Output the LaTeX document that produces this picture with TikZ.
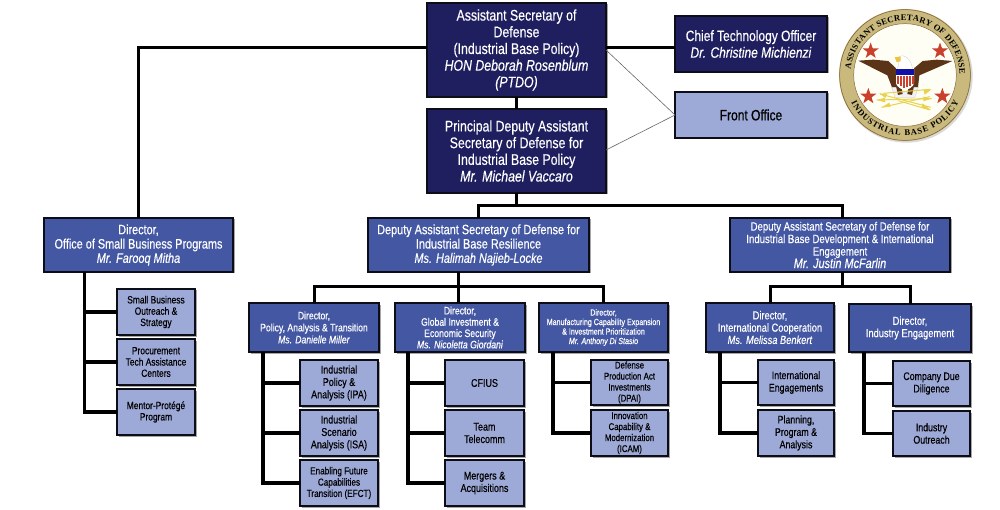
\documentclass[tikz,border=0pt]{standalone}
\usepackage{fontspec}
\setmainfont{Liberation Sans}[FakeStretch=0.8,FakeBold=0.35]
\newfontfamily\sealfont{Liberation Serif}[Scale=1]
\usetikzlibrary{shadows,shapes.geometric,decorations.text,calc}
\definecolor{navy}{HTML}{1F1E5F}
\definecolor{midb}{HTML}{4457A3}
\definecolor{lite}{HTML}{9DA9D6}
\definecolor{edge}{HTML}{0D0D18}
\definecolor{gold}{HTML}{C9B97C}
\definecolor{brn}{HTML}{5B3418}
\definecolor{starred}{HTML}{C9402C}
\definecolor{arrowy}{HTML}{E8D24E}
\tikzset{
  orgbox/.style={draw=edge,line width=1.4pt,inner sep=0pt,outer sep=0pt,align=center,
    drop shadow={shadow xshift=1.5pt,shadow yshift=-1.5pt,opacity=.35,fill=black}},
  topbox/.style={orgbox,fill=navy,text=white},
  midbox/.style={orgbox,fill=midb,text=white},
  litebox/.style={orgbox,fill=lite,text=black},
  conn/.style={draw=black,line width=3.3pt,line cap=butt},
  bus/.style={draw=black,line width=3pt,line join=miter},
  thin/.style={draw=gray!80!black,line width=.6pt},
}
% name, x1,y1,x2,y2, style, size, leading, text
\newcommand{\bx}[9]{\node[#6,minimum width={(#4-#2)*1pt},minimum height={(#5-#3)*1pt},
  font=\fontsize{#7}{#8}\selectfont] (#1) at ({(#2+#4)/2},{(#3+#5)/2}) {#9};}
\begin{document}
\begin{tikzpicture}[x=1pt,y=-1pt]
\useasboundingbox (0,0) rectangle (1000,510);
% coordinates for junctions
\coordinate (a1) at (427,47.5);
\coordinate (busy) at (516.5,205.5);
\coordinate (resbus) at (458,287);
\coordinate (devbus) at (842,286.5);
\coordinate (devtop) at (842,218);
\coordinate (osbsp) at (84.5,272);
\coordinate (patsp) at (263,352);
\coordinate (giesp) at (408,352);
\coordinate (mcesp) at (553,352);
\coordinate (icsp) at (720,352);
\coordinate (iesp) at (864,352);
\coordinate (fo) at (675,115);
\coordinate (aout) at (606,50);
\coordinate (pout) at (606,150);
\coordinate (patin) at (314,303);
\coordinate (mcein) at (603,303);
% nodes
\bx{a}{427}{3}{606}{97}{topbox}{15.4}{16.7}{Assistant Secretary of\\Defense\\(Industrial Base Policy)\\\textit{HON Deborah Rosenblum}\\\textit{(PTDO)}}
\bx{pd}{427}{109}{606}{193}{topbox}{15.4}{16.7}{Principal Deputy Assistant\\Secretary of Defense for\\Industrial Base Policy\\\textit{Mr. Michael Vaccaro}}
\bx{cto}{675}{16}{827}{72}{topbox}{15}{16.7}{Chief Technology Officer\\\textit{Dr. Christine Michienzi}}
\bx{fob}{675}{92}{827}{138}{litebox}{15}{16.7}{\addfontfeature{FakeBold=0.8}Front Office}
\bx{osb}{44}{218}{233}{272}{midbox}{13.6}{14.3}{Director,\\Office of Small Business Programs\\\textit{Mr. Farooq Mitha}}
\bx{res}{368}{218}{589}{272}{midbox}{13.6}{14.3}{Deputy Assistant Secretary of Defense for\\Industrial Base Resilience\\\textit{Ms. Halimah Najieb-Locke}}
\bx{dev}{730}{218}{950}{272}{midbox}{12}{12.5}{Deputy Assistant Secretary of Defense for\\Industrial Base Development \& International\\Engagement\\{\fontsize{13.6}{13}\selectfont\textit{Mr. Justin McFarlin}}}
\bx{pat}{249}{303}{379}{352}{midbox}{10.8}{12}{Director,\\Policy, Analysis \& Transition\\\textit{Ms. Danielle Miller}}
\bx{gie}{395}{303}{525}{352}{midbox}{10.8}{11.3}{Director,\\Global Investment \&\\Economic Security\\\textit{Ms. Nicoletta Giordani}}
\bx{mce}{539}{303}{668}{352}{midbox}{8.9}{9.5}{Director,\\Manufacturing Capability Expansion\\\& Investment Prioritization\\\textit{Mr. Anthony Di Stasio}}
\bx{ic}{706}{303}{834}{352}{midbox}{11.6}{12.3}{Director,\\International Cooperation\\\textit{Ms. Melissa Benkert}}
\bx{ie}{849}{304}{971}{352}{midbox}{11.6}{12.3}{Director,\\Industry Engagement}
\bx{o1}{117}{289}{195}{335}{litebox}{10.5}{11.3}{Small Business\\Outreach \&\\Strategy}
\bx{o2}{117}{339}{195}{385}{litebox}{10.5}{11.3}{Procurement\\Tech Assistance\\Centers}
\bx{o3}{117}{389}{195}{435}{litebox}{10.5}{11.3}{Mentor-Protégé\\Program}
\bx{p1}{300}{360}{378}{406}{litebox}{11.2}{12.4}{Industrial\\Policy \&\\Analysis (IPA)}
\bx{p2}{300}{410}{378}{456}{litebox}{11.2}{12.4}{Industrial\\Scenario\\Analysis (ISA)}
\bx{p3}{300}{460}{378}{506}{litebox}{10.2}{11.3}{Enabling Future\\Capabilities\\Transition (EFCT)}
\bx{g1}{445}{360}{524}{406}{litebox}{11.2}{12.4}{CFIUS}
\bx{g2}{445}{410}{524}{456}{litebox}{11.2}{12.4}{Team\\Telecomm}
\bx{g3}{445}{460}{524}{506}{litebox}{11.2}{12.4}{Mergers \&\\Acquisitions}
\bx{m1}{591}{360}{668}{405}{litebox}{9.8}{11}{Defense\\Production Act\\Investments\\(DPAI)}
\bx{m2}{591}{410}{668}{456}{litebox}{9.8}{11}{Innovation\\Capability \&\\Modernization\\(ICAM)}
\bx{i1}{758}{360}{834}{405}{litebox}{11}{12.4}{International\\Engagements}
\bx{i2}{758}{410}{834}{456}{litebox}{11}{12.4}{Planning,\\Program \&\\Analysis}
\bx{e1}{893}{361}{970}{406}{litebox}{11}{12.4}{Company Due\\Diligence}
\bx{e2}{893}{411}{970}{456}{litebox}{11}{12.4}{Industry\\Outreach}
% connectors
\draw[conn] (osb.north) |- (a1);
\draw[conn] (a1 -| a.east) -- (a1 -| cto.west);
\draw[conn] (a.south) -- (pd.north);
\draw[bus] (pd.south) -- (busy);
\draw[bus] (res.north) |- (busy) -| (devtop);
\draw[thin] (aout) -- (fo) -- (pout);
\draw[bus] (resbus |- res.south) -- (resbus);
\draw[bus] (patin) |- (resbus) -| (mcein);
\draw[bus] (resbus) -- (resbus |- gie.north);
\draw[bus] (devbus |- dev.south) -- (devbus);
\draw[bus] (ic.north) |- (devbus) -| (ie.north);
\draw[conn] (osbsp) |- (o3.west);
\draw[conn] (osbsp |- o1.west) -- (o1.west);
\draw[conn] (osbsp |- o2.west) -- (o2.west);
\draw[conn] (patsp) |- (p3.west);
\draw[conn] (patsp |- p1.west) -- (p1.west);
\draw[conn] (patsp |- p2.west) -- (p2.west);
\draw[conn] (giesp) |- (g3.west);
\draw[conn] (giesp |- g1.west) -- (g1.west);
\draw[conn] (giesp |- g2.west) -- (g2.west);
\draw[conn] (mcesp) |- (m2.west);
\draw[conn] (mcesp |- m1.west) -- (m1.west);
\draw[conn] (icsp) |- (i2.west);
\draw[conn] (icsp |- i1.west) -- (i1.west);
\draw[conn] (iesp) |- (e2.west);
\draw[conn] (iesp |- e1.west) -- (e1.west);
% seal: coordinates are those of the 3x crop at (830,0)
\begin{scope}[shift={(830,0)},x=.33333pt,y=-.33333pt]
\fill[black,opacity=.15] (229,229) circle [radius=199];
\fill[gold] (225,225) circle [radius=198];
\draw[brn!70!gold,line width=.5pt] (225,225) circle [radius=196];
\fill[white!96!yellow] (225,225) circle [radius=154];
\draw[brn!60!gold,line width=.5pt] (225,225) circle [radius=154];
% wings
\fill[brn] (85,182) -- (130,179) -- (175,183) -- (198,205) -- (198,262) -- (186,262) -- (172,226) -- (130,205) -- cycle;
\fill[brn] (367,183) -- (320,179) -- (278,183) -- (252,205) -- (252,262) -- (264,262) -- (268,226) -- (310,208) -- cycle;
% tail and body
\fill[white!90!gray,draw=gray!50,line width=.2pt] (185,262) -- (265,262) -- (255,292) -- (195,292) -- cycle;
\fill[brn] (196,250) -- (212,250) -- (218,282) -- (204,285) -- cycle;
\fill[brn] (254,250) -- (238,250) -- (232,282) -- (246,285) -- cycle;
% head
\fill[white,draw=gray!50,line width=.2pt] (198,178) .. controls (210,160) and (240,162) .. (248,208) -- (200,208) .. controls (210,195) and (208,185) .. (198,178) -- cycle;
\fill[arrowy!80!orange] (194,172) -- (212,170) -- (212,184) -- (200,186) -- cycle;
% shield
\fill[white] (198,207) -- (252,207) -- (252,250) .. controls (250,262) and (232,268) .. (225,274) .. controls (218,268) and (200,262) .. (198,250) -- cycle;
\foreach \xx in {201,210,219,228,237,246}
  \fill[starred] (\xx,227) rectangle ++(4.5,{38-abs(\xx-223)*.6});
\fill[blue!45!navy] (198,207) rectangle (252,226);
% arrows
\foreach \ax/\ay/\bx/\by in {140/300/305/296,155/322/300/290,150/282/302/322,160/280/300/268,205/302/300/330}
  \draw[arrowy,line width=1pt] (\ax,\ay) -- (\bx,\by);
\fill[arrowy] (140,300) -- (165,293) -- (165,307) -- cycle;
\fill[arrowy] (155,322) -- (178,308) -- (182,320) -- cycle;
\fill[arrowy] (148,280) -- (172,282) -- (166,294) -- cycle;
\fill[arrowy] (305,268) -- (280,270) -- (284,284) -- cycle;
\fill[arrowy] (305,296) -- (280,290) -- (280,304) -- cycle;
\fill[arrowy] (302,330) -- (278,310) -- (274,322) -- cycle;
% stars
\foreach \sx/\sy in {122/153,330/153,115/289,337/289}
  \node[star,star points=5,star point ratio=2.5,fill=starred,minimum size=17pt,inner sep=0pt] (s\sx) at (\sx,\sy) {};
\end{scope}
\begin{scope}[shift={(905,75)},x=1pt,y=1pt]
\path[decorate,decoration={text along path,text={|\sealfont\bfseries\fontsize{8.6}{9}\selectfont|ASSISTANT SECRETARY OF DEFENSE},text align={fit to path}}]
  (174:54.5) arc (174:1:54.5);
\path[decorate,decoration={text along path,text={|\sealfont\bfseries\fontsize{8.6}{9}\selectfont|INDUSTRIAL BASE POLICY},text align={fit to path}}]
  (207:60.5) arc (207:333:60.5);
\end{scope}
\end{tikzpicture}
\end{document}
